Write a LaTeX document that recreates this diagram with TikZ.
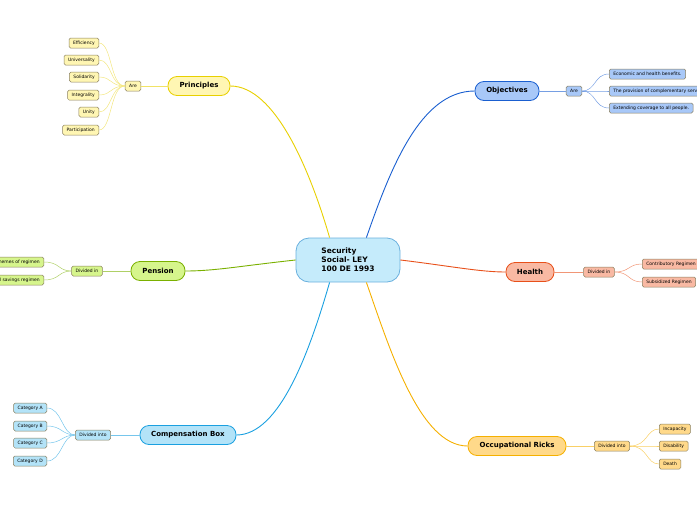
\documentclass[tikz,border=0pt]{standalone}
\usepackage{fontspec}
\setmainfont{DejaVu Sans}
\begin{document}
\begin{tikzpicture}[x=1pt,y=-1pt,
 main/.style={draw=#1,rounded corners=9pt,line width=0.8pt,font=\fontsize{7}{8}\selectfont\bfseries,minimum height=19pt,inner xsep=10pt},
 sub/.style={draw=#1,rounded corners=1.5pt,line width=0.5pt,font=\fontsize{4.5}{5}\selectfont,minimum height=10pt,inner xsep=4pt,inner ysep=1pt},
 ln/.style={draw=#1,line width=0.5pt}]
\useasboundingbox (0,0) rectangle (697,520);
\clip (0,0) rectangle (697,520);
\definecolor{yb}{HTML}{FFF6B3}\definecolor{yl}{HTML}{E8D000}
\definecolor{bb}{HTML}{A8C8F8}\definecolor{bl}{HTML}{1A5FD0}
\definecolor{rb}{HTML}{F9B9A3}\definecolor{rl}{HTML}{E8501A}
\definecolor{gb}{HTML}{D6F58C}\definecolor{gl}{HTML}{7AB000}
\definecolor{cb}{HTML}{B3E3F8}\definecolor{cl}{HTML}{1AA0E0}
\definecolor{ob}{HTML}{FFD98A}\definecolor{ol}{HTML}{F5B000}
\definecolor{sb}{HTML}{8A8060}
% center
\node[draw={rgb,255:red,106;green,176;blue,222},fill={rgb,255:red,197;green,235;blue,251},rounded corners=13pt,line width=0.8pt,minimum width=104pt,minimum height=44pt,align=left,font=\fontsize{7.5}{9}\selectfont\bfseries] (c) at (348,260) {Security\\Social- LEY\\100 DE 1993};
% mains
\node[main=yl,fill=yb,minimum width=62pt] (p) at (199,86) {Principles};
\node[main=bl,fill=bb,minimum width=64pt] (o) at (507,91) {Objectives};
\node[main=rl,fill=rb,minimum width=48pt] (h) at (530,272) {Health};
\node[main=gl,fill=gb,minimum width=54pt] (pe) at (158,271) {Pension};
\node[main=cl,fill=cb,minimum width=96pt] (cb) at (188,435) {Compensation Box};
\node[main=ol,fill=ob,minimum width=98pt] (oc) at (517,446) {Occupational Ricks};
\draw[ln=yl,line width=0.9pt] (c.north west)++(34,0) .. controls (310,170) and (275,86) .. (p.east);
\draw[ln=bl,line width=0.9pt] (c.north east)++(-34,0) .. controls (390,170) and (420,91) .. (o.west);
\draw[ln=rl,line width=0.9pt] (c.east) .. controls (450,266) and (480,272) .. (h.west);
\draw[ln=gl,line width=0.9pt] (c.west) .. controls (240,266) and (215,271) .. (pe.east);
\draw[ln=cl,line width=0.9pt] (c.south west)++(34,0) .. controls (310,350) and (280,435) .. (cb.east);
\draw[ln=ol,line width=0.9pt] (c.south east)++(-34,0) .. controls (390,350) and (420,446) .. (oc.west);
% subnodes
\node[sub=sb,fill=yb] (pa) at (133,86) {Are};
\node[sub=sb,fill=bb] (oa) at (574,91) {Are};
\node[sub=sb,fill=rb] (hd) at (599,272) {Divided in};
\node[sub=sb,fill=gb] (pd) at (87,271) {Divided in};
\node[sub=sb,fill=cb] (cd) at (93,435) {Divided into};
\node[sub=sb,fill=ob] (od) at (612,446) {Divided into};
\draw[ln=yl!60] (p.west) -- (pa.east);
\draw[ln=bl!60] (o.east) -- (oa.west);
\draw[ln=rl!60] (h.east) -- (hd.west);
\draw[ln=gl!60] (pe.west) -- (pd.east);
\draw[ln=cl!60] (cb.west) -- (cd.east);
\draw[ln=ol!60] (oc.east) -- (od.west);
% leaves principles
\foreach \t/\y [count=\i] in {Efficiency/43,Universality/60,Solidarity/77,Integrality/95,Unity/112,Participation/130}{
 \node[sub=sb,fill=yb,anchor=east] (pl\i) at (99,\y) {\t};
 \draw[ln=yl!50] (pa.west) .. controls (110,86) and (112,\y) .. (pl\i.east);}
\foreach \t/\y [count=\i] in {Economic and health benefits./74,The provision of complementary services./91,Extending coverage to all people./108}{
 \node[sub=sb,fill=bb,anchor=west] (ol\i) at (609,\y) {\t};
 \draw[ln=bl!60] (oa.east) .. controls (596,91) and (594,\y) .. (ol\i.west);}
\foreach \t/\y [count=\i] in {Contributory Regimen/264,Subsidized Regimen/282}{
 \node[sub=sb,fill=rb,anchor=west] (hl\i) at (642,\y) {\t};
 \draw[ln=rl!60] (hd.east) .. controls (630,272) and (628,\y) .. (hl\i.west);}
\foreach \t/\y [count=\i] in {Average premium schemes of regimen/262,Individual savings regimen/280}{
 \node[sub=sb,fill=gb,anchor=east] (gl\i) at (44,\y) {\t};
 \draw[ln=gl!60] (pd.west) .. controls (58,271) and (60,\y) .. (gl\i.east);}
\foreach \t/\y [count=\i] in {Category A/408,Category B/426,Category C/443,Category D/461}{
 \node[sub=sb,fill=cb,anchor=east] (cl\i) at (47,\y) {\t};
 \draw[ln=cl!60] (cd.west) .. controls (62,435) and (62,\y) .. (cl\i.east);}
\foreach \t/\y [count=\i] in {Incapacity/429,Disability/446,Death/464}{
 \node[sub=sb,fill=ob,anchor=west] (olf\i) at (659,\y) {\t};
 \draw[ln=ol!60] (od.east) .. controls (648,446) and (646,\y) .. (olf\i.west);}
\end{tikzpicture}
\end{document}
